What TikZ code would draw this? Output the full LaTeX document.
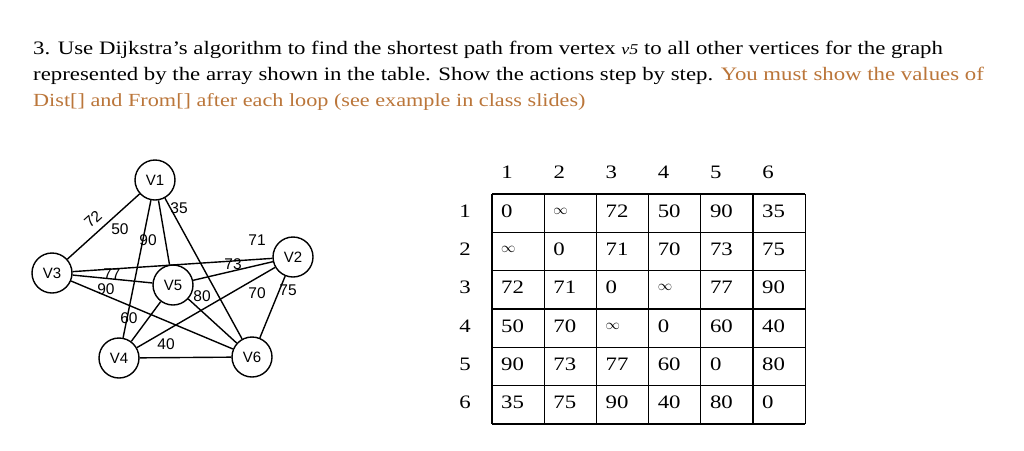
\documentclass[tikz,border=0pt]{standalone}
\usepackage{fontspec}
\setmainfont[FakeStretch=1.2]{Liberation Serif}
\newfontfamily\graphfont{Liberation Sans}
\newfontfamily\tabfont[FakeStretch=1.2]{Liberation Serif}
\definecolor{noteorange}{RGB}{187,118,58}
\newcommand{\noedge}{{\fontsize{15}{15}\selectfont$\infty$}}

\tikzset{
  vtx/.style={circle,draw,line width=1.4pt,minimum size=40pt,inner sep=0pt,
    font=\graphfont\fontsize{15}{15}\selectfont},
  wt/.style={inner sep=0pt,font=\graphfont\fontsize{15.5}{15.5}\selectfont},
  edge/.style={line width=1.4pt},
  grid/.style={line width=1.3pt},
  cell/.style={anchor=west,inner sep=0pt,font=\tabfont\fontsize{19}{19}\selectfont},
  hdr/.style={inner sep=0pt,font=\tabfont\fontsize{19}{19}\selectfont},
  title/.style={anchor=base west,inner sep=0pt,font=\fontsize{19}{23}\selectfont},
}

\begin{document}
\begin{tikzpicture}[x=1pt,y=-1pt]
    \useasboundingbox[fill=white] (0,0) rectangle (1024,450);
    % question text
    \node[title] (q1) at (33,54) {3. Use Dijkstra's algorithm to find the shortest path from vertex {\fontsize{15}{15}\selectfont\itshape v5} to all other vertices for the graph};
    \node[title] (q2) at (33,80) {represented by the array shown in the table. Show the actions step by step. \textcolor{noteorange}{You must show the values of}};
    \node[title,text=noteorange,font=\fontsize{18.5}{23}\selectfont] (q3) at (33,106) {Dist[] and From[] after each loop (see example in class slides)};

    % graph
    \node[vtx] (v1) at (155,180) {V1};
    \node[vtx] (v2) at (293,257) {V2};
    \node[vtx] (v3) at (52,273) {V3};
    \node[vtx] (v4) at (119,358) {V4};
    \node[vtx] (v5) at (173,285) {V5};
    \node[vtx] (v6) at (252,357) {V6};
    \foreach \a/\b in {v1/v3,v1/v4,v1/v5,v1/v6,v3/v2,v3/v5,v3/v6,v5/v2,v5/v4,v5/v6,v2/v4,v2/v6,v4/v6}
        \draw[edge] (\a) -- (\b);
    \node[wt,rotate=42] (w13) at (93,219) {72};
    \node[wt] (w14) at (120,229) {50};
    \node[wt] (w15) at (148,240) {90};
    \node[wt] (w16) at (179,208) {35};
    \node[wt] (w32) at (257,240) {71};
    \node[wt] (w52) at (233,264) {73};
    \node[wt] (w35) at (112,274) {77};
    \node[wt] (w36) at (106,289) {90};
    \node[wt] (w56) at (202,296) {80};
    \node[wt] (w24) at (257,293) {70};
    \node[wt] (w26) at (288,290) {75};
    \node[wt] (w54) at (129,318) {60};
    \node[wt] (w46) at (166,344) {40};

    % adjacency table
    \foreach \i in {0,...,6} {
        \draw[grid] ({492+52.2*\i},194) -- ({492+52.2*\i},424);
        \draw[grid] (492,{194+38.33*\i}) -- (805.2,{194+38.33*\i});
    }
    \foreach \c in {1,...,6} {
        \node[hdr] (h\c) at ({507+52.2*(\c-1)},172) {\c};
        \node[hdr] (r\c) at (465,{211+38.33*(\c-1)}) {\c};
    }
    \foreach \row [count=\r] in {{0,\noedge,72,50,90,35},{\noedge,0,71,70,73,75},{72,71,0,\noedge,77,90},
                                {50,70,\noedge,0,60,40},{90,73,77,60,0,80},{35,75,90,40,80,0}}
        \foreach \v [count=\c] in \row
            \node[cell] (m\r\c) at ({501+52.2*(\c-1)},{211+38.33*(\r-1)}) {\v};
\end{tikzpicture}
\end{document}
